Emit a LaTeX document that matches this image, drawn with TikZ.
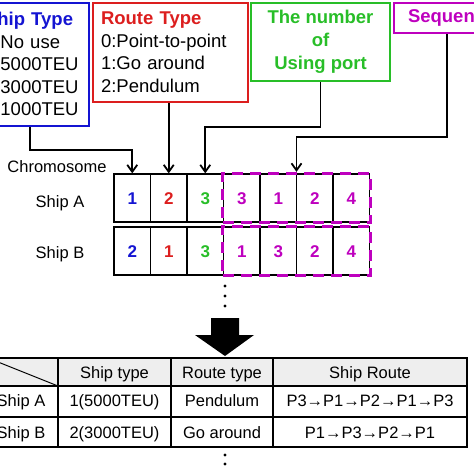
\documentclass[tikz,border=0pt]{standalone}
\usepackage{fontspec}
\setmainfont{Liberation Sans}
\usetikzlibrary{arrows.meta,fit}
\definecolor{cblue}{RGB}{20,20,210}
\definecolor{cred}{RGB}{220,30,30}
\definecolor{cgreen}{RGB}{40,190,40}
\definecolor{cmag}{RGB}{190,0,190}
\definecolor{hdr}{RGB}{238,238,238}
\tikzset{
 tbox/.style={draw, line width=2pt, rectangle, inner ysep=0pt, font=\fontsize{18.5}{22.5}\selectfont, align=left},
 cell/.style={draw, line width=1.3pt, minimum width=36.5pt, minimum height=48pt, inner sep=0pt, text height=12pt, text depth=0pt, font=\fontsize{17}{20}\selectfont\bfseries},
 conn/.style={line width=1.8pt, -{Straight Barb[length=7pt,width=10pt]}},
 seq/.style={draw=cmag, line width=3pt, dash pattern=on 11pt off 7pt, inner sep=0pt},
 lbl/.style={inner sep=0pt, text height=12pt, text depth=0pt, font=\fontsize{16.5}{20}\selectfont},
 tcell/.style={inner sep=0pt, text height=11.8pt, text depth=0pt, font=\fontsize{16.5}{19}\selectfont},
 dotm/.style={fill, circle, inner sep=0pt, minimum size=3.4pt},
}
\begin{document}
\begin{tikzpicture}[x=1pt,y=-1pt]
\useasboundingbox (0,0) rectangle (474,474);
\clip (0,0) rectangle (474,474);
% top boxes
\node[tbox, draw=cblue, anchor=north west, minimum width=112pt, minimum height=123.5pt, text width=96pt, inner xsep=8pt] (shiptype) at (-24,1.5)
 {\textcolor{cblue}{\textbf{Ship Type}}\\0:No use\\1:5000TEU\\2:3000TEU\\3:1000TEU};
\node[tbox, draw=cred, anchor=north west, minimum width=155pt, minimum height=99.5pt, text width=139pt, inner xsep=8pt] (routetype) at (92,1.5)
 {\textcolor{cred}{\textbf{Route Type}}\\0:Point-to-point\\1:Go around\\2:Pendulum};
\node[tbox, draw=cgreen, text=cgreen, font={\fontsize{18.5}{23}\selectfont\bfseries}, align=center, anchor=north west, minimum width=139pt, minimum height=78.5pt] (ports) at (250,1.5)
 {The number\\of\\Using port};
\node[tbox, draw=cmag, text=cmag, font={\fontsize{18.5}{23}\selectfont\bfseries}, anchor=north west, minimum width=170pt, minimum height=30.5pt, text width=142pt, inner xsep=14pt] (sequence) at (393,1.5)
 {Sequence};
% labels
\node[lbl] (chromo) at (57,166.7) {Chromosome};
\node[lbl] (shipAl) at (60,201) {Ship A};
\node[lbl] (shipBl) at (60,252) {Ship B};
% cells
\foreach \v/\c [count=\i] in {1/cblue,2/cred,3/cgreen,3/cmag,1/cmag,2/cmag,4/cmag}
 \node[cell, text=\c] (a\i) at ({114+36.5*(\i-0.5)},198) {\v};
\foreach \v/\c [count=\i] in {2/cblue,1/cred,3/cgreen,1/cmag,3/cmag,2/cmag,4/cmag}
 \node[cell, text=\c] (b\i) at ({114+36.5*(\i-0.5)},251) {\v};
\node[seq, fit=(a4)(a7)] (seqA) {};
\node[seq, fit=(b4)(b7)] (seqB) {};
% connectors
\coordinate (bj) at (30,150);
\coordinate (gj) at (319.5,127);
\coordinate (mj) at (447,137);
\draw[conn] (bj |- shiptype.south) -- (bj) -| (a1.north);
\draw[conn] (routetype.south -| a2.north) -- (a2.north);
\draw[conn] (ports.south) -- (ports.south |- gj) -| (a3.north);
\draw[conn] (mj |- sequence.south) -- (mj) -| (seqA.north);
% dots
\foreach \y [count=\k] in {286,296,306} \node[dotm] (d\k) at (225,\y) {};
\foreach \y [count=\k] in {455,464} \node[dotm] (e\k) at (225,\y) {};
% big arrow
\fill (211,318) -- (239,318) -- (239,335) -- (254,335) -- (225,356) -- (195,335) -- (211,335) -- cycle;
% table
\fill[hdr] (-12,358) rectangle (467,386);
\draw[line width=1.3pt] (-12,386) -- (467,386) (-12,417) -- (467,417)
 (58,358) -- (58,447) (171,358) -- (171,447) (273,358) -- (273,447);
\draw[line width=1pt] (-12,358) -- (58,386);
\draw[line width=2.8pt] (-12,358) rectangle (467,447);
\node[tcell] (h1) at (114.5,372.5) {Ship type};
\node[tcell] (h2) at (222,372.5) {Route type};
\node[tcell] (h3) at (370,372.5) {Ship Route};
\node[tcell] (ra0) at (21,401) {Ship A};
\node[tcell] (ra1) at (114.5,401) {1(5000TEU)};
\node[tcell] (ra2) at (222,401) {Pendulum};
\node[tcell] (ra3) at (370,401) {P3→P1→P2→P1→P3};
\node[tcell] (rb0) at (21,432.5) {Ship B};
\node[tcell] (rb1) at (114.5,432.5) {2(3000TEU)};
\node[tcell] (rb2) at (222,432.5) {Go around};
\node[tcell] (rb3) at (370,432.5) {P1→P3→P2→P1};
\end{tikzpicture}
\end{document}
